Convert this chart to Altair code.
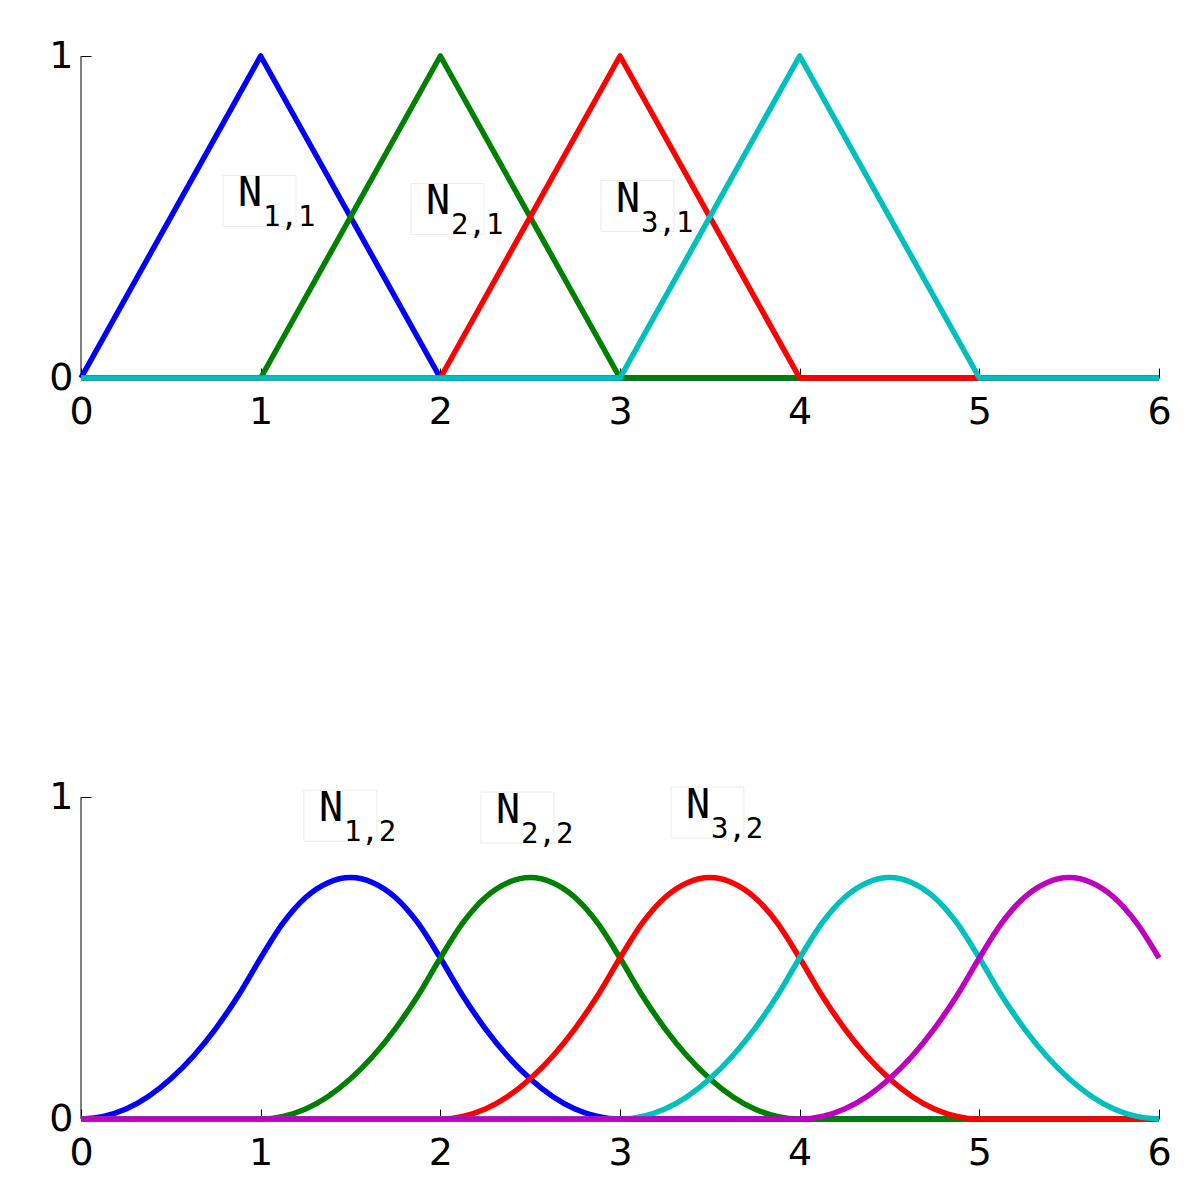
import altair as alt
import pandas as pd

# ---------------- data ----------------
# top panel: linear (degree-1) basis functions, sampled at the knots
x_top = [0, 1, 2, 3, 4, 5, 6]
top_blue = [0, 1, 0, 0, 0, 0, 0]
top_green = [0, 0, 1, 0, 0, 0, 0]
top_red = [0, 0, 0, 1, 0, 0, 0]
top_cyan = [0, 0, 0, 0, 1, 0, 0]

# bottom panel: quadratic basis functions, values read at steps of 0.125
x_bottom = [0, 0.125, 0.25, 0.375, 0.5, 0.625, 0.75, 0.875,
            1, 1.125, 1.25, 1.375, 1.5, 1.625, 1.75, 1.875,
            2, 2.125, 2.25, 2.375, 2.5, 2.625, 2.75, 2.875,
            3, 3.125, 3.25, 3.375, 3.5, 3.625, 3.75, 3.875,
            4, 4.125, 4.25, 4.375, 4.5, 4.625, 4.75, 4.875,
            5, 5.125, 5.25, 5.375, 5.5, 5.625, 5.75, 5.875, 6]
bot_blue = [0, 0.008, 0.031, 0.07, 0.125, 0.195, 0.281, 0.383,
            0.5, 0.609, 0.688, 0.734, 0.75, 0.734, 0.688, 0.609,
            0.5, 0.383, 0.281, 0.195, 0.125, 0.07, 0.031, 0.008,
            0, 0, 0, 0, 0, 0, 0, 0,
            0, 0, 0, 0, 0, 0, 0, 0,
            0, 0, 0, 0, 0, 0, 0, 0, 0]
bot_green = [0, 0, 0, 0, 0, 0, 0, 0,
             0, 0.008, 0.031, 0.07, 0.125, 0.195, 0.281, 0.383,
             0.5, 0.609, 0.688, 0.734, 0.75, 0.734, 0.688, 0.609,
             0.5, 0.383, 0.281, 0.195, 0.125, 0.07, 0.031, 0.008,
             0, 0, 0, 0, 0, 0, 0, 0,
             0, 0, 0, 0, 0, 0, 0, 0, 0]
bot_red = [0, 0, 0, 0, 0, 0, 0, 0,
           0, 0, 0, 0, 0, 0, 0, 0,
           0, 0.008, 0.031, 0.07, 0.125, 0.195, 0.281, 0.383,
           0.5, 0.609, 0.688, 0.734, 0.75, 0.734, 0.688, 0.609,
           0.5, 0.383, 0.281, 0.195, 0.125, 0.07, 0.031, 0.008,
           0, 0, 0, 0, 0, 0, 0, 0, 0]
bot_cyan = [0, 0, 0, 0, 0, 0, 0, 0,
            0, 0, 0, 0, 0, 0, 0, 0,
            0, 0, 0, 0, 0, 0, 0, 0,
            0, 0.008, 0.031, 0.07, 0.125, 0.195, 0.281, 0.383,
            0.5, 0.609, 0.688, 0.734, 0.75, 0.734, 0.688, 0.609,
            0.5, 0.383, 0.281, 0.195, 0.125, 0.07, 0.031, 0.008, 0]
bot_magenta = [0, 0, 0, 0, 0, 0, 0, 0,
               0, 0, 0, 0, 0, 0, 0, 0,
               0, 0, 0, 0, 0, 0, 0, 0,
               0, 0, 0, 0, 0, 0, 0, 0,
               0, 0.008, 0.031, 0.07, 0.125, 0.195, 0.281, 0.383,
               0.5, 0.609, 0.688, 0.734, 0.75, 0.734, 0.688, 0.609, 0.5]

x_ticks = [0, 1, 2, 3, 4, 5, 6]
y_ticks = [0, 1]

top_sub = ["1,1", "2,1", "3,1"]
top_label_x = [0.874, 1.92, 2.978]
top_label_y = [0.533, 0.508, 0.517]

bot_sub = ["1,2", "2,2", "3,2"]
bot_label_x = [1.324, 2.31, 3.367]
bot_label_y = [0.925, 0.919, 0.935]

COLORS = {"blue": "#0000ff", "green": "#008000", "red": "#ff0000",
          "cyan": "#00bfbf", "magenta": "#bf00bf"}

W, H = 1078, 322
TICK_FONT = "DejaVu Sans"
LABEL_FONT = "DejaVu Sans Mono"

xscale = alt.Scale(domain=[0, 6], nice=False, zero=False)
yscale = alt.Scale(domain=[0, 1], nice=False, zero=False)

xaxis = alt.Axis(values=x_ticks, title=None, grid=False, domain=False,
                 tickSize=10, offset=-10, tickColor="black", tickWidth=1,
                 labelFont=TICK_FONT, labelFontSize=38, labelColor="black",
                 labelPadding=15, labelFlush=False, labelAngle=0, format="d")
yaxis = alt.Axis(values=y_ticks, title=None, grid=False, domain=False, orient="left",
                 tickSize=10, offset=-10, tickColor="black", tickWidth=1,
                 labelFont=TICK_FONT, labelFontSize=38, labelColor="black",
                 labelPadding=8, labelFlush=False, format="d")


def panel(xs, series, subs, lx, ly, interp):
    layers = []
    # y-axis line
    layers.append(
        alt.Chart(pd.DataFrame({"a": [0]})).mark_rule(color="black", strokeWidth=1).encode(
            x=alt.datum(0, scale=xscale, axis=xaxis),
            y=alt.datum(0, scale=yscale, axis=yaxis),
            y2=alt.datum(1),
        )
    )
    for name, vals in series:
        df = pd.DataFrame({"x": xs, "y": vals})
        layers.append(
            alt.Chart(df).mark_line(color=COLORS[name], strokeWidth=5.5,
                                    interpolate=interp, strokeJoin="round",
                                    strokeCap="butt").encode(
                x=alt.X("x:Q", scale=xscale, axis=xaxis),
                y=alt.Y("y:Q", scale=yscale, axis=yaxis),
            )
        )
    ldf = pd.DataFrame({"x": lx, "y": ly, "sub": subs})
    base = alt.Chart(ldf)
    layers.append(
        base.mark_rect(fill="white", stroke="#ebebeb", strokeWidth=1,
                       xOffset=-15, x2Offset=58, yOffset=-31, y2Offset=20).encode(
            x=alt.X("x:Q", scale=xscale, axis=xaxis), x2="x:Q",
            y=alt.Y("y:Q", scale=yscale, axis=yaxis), y2="y:Q",
        )
    )
    layers.append(
        base.mark_text(text="N", align="left", baseline="alphabetic",
                       font=LABEL_FONT, fontSize=40, color="black").encode(
            x=alt.X("x:Q", scale=xscale, axis=xaxis),
            y=alt.Y("y:Q", scale=yscale, axis=yaxis),
        )
    )
    layers.append(
        base.mark_text(align="left", baseline="alphabetic", dx=25, dy=20,
                       font=LABEL_FONT, fontSize=29, color="black").encode(
            x=alt.X("x:Q", scale=xscale, axis=xaxis),
            y=alt.Y("y:Q", scale=yscale, axis=yaxis),
            text="sub:N",
        )
    )
    return alt.layer(*layers).properties(width=W, height=H)


top = panel(x_top, [("blue", top_blue), ("green", top_green), ("red", top_red),
                    ("cyan", top_cyan)], top_sub, top_label_x, top_label_y, "linear")
bottom = panel(x_bottom, [("blue", bot_blue), ("green", bot_green), ("red", bot_red),
                          ("cyan", bot_cyan), ("magenta", bot_magenta)],
               bot_sub, bot_label_x, bot_label_y, "monotone")

chart = alt.vconcat(top, bottom, spacing=347).properties(
    padding={"left": 40, "top": 29, "right": 5, "bottom": 5},
    background="white",
).configure_view(stroke=None)

chart.save("out.html", embed_options={"renderer": "svg", "actions": False})
